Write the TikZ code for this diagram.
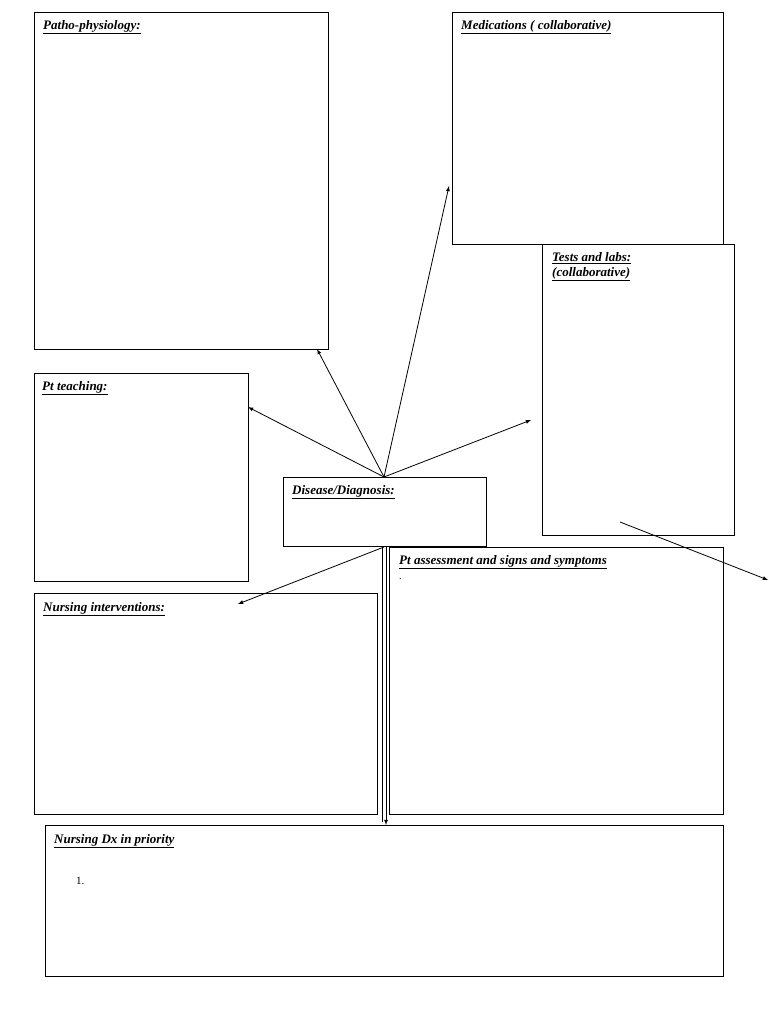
\documentclass[tikz,border=0pt]{standalone}
\usepackage{fontspec}
\setmainfont{Liberation Serif}
\begin{document}
\begin{tikzpicture}[x=1pt,y=-1pt,
  box/.style={draw,line width=0.9pt},
  ttl/.style={anchor=north west,font=\bfseries\itshape\fontsize{13}{15}\selectfont,align=left,inner sep=0pt},
  arr/.style={-latex,line width=0.8pt}]
\useasboundingbox (0,0) rectangle (768,1024);
\draw[box] (34,12) rectangle (328,349);
\draw[box] (452,12) rectangle (723,244);
\draw[box,fill=white] (542,244) rectangle (734,535);
\draw[box] (34,373) rectangle (248,581);
\draw[box] (283,477) rectangle (486,546);
\draw[box] (389,547) rectangle (723,814);
\draw[box] (34,593) rectangle (377,814);
\draw[box] (45,825) rectangle (723,976);
\node[ttl] (t1) at (43,20) {\underline{Patho-physiology:}};
\node[ttl] (t2) at (461,20) {\underline{Medications ( collaborative)}};
\node[ttl] (t3) at (552,252) {\underline{Tests and labs:}\\\underline{(collaborative)}};
\node[ttl] (t4) at (42,381) {\underline{Pt teaching:}};
\node[ttl] (t5) at (292,485) {\underline{Disease/Diagnosis:}};
\node[ttl] (t6) at (399,555) {\underline{Pt assessment and signs and symptoms}};
\node[anchor=north west,inner sep=0pt,font=\fontsize{10}{12}\selectfont] (d) at (399,578) {.};
\node[ttl] (t7) at (43,602) {\underline{Nursing interventions:}};
\node[ttl] (t8) at (54,834) {\underline{Nursing Dx in priority}};
\node[anchor=north west,inner sep=0pt,font=\fontsize{11}{13}\selectfont] (n1) at (76,877) {1.};
\coordinate (c) at (384,477);
\coordinate (b) at (384,547);
\coordinate (p1) at (317,349);
\coordinate (p2) at (449,186);
\coordinate (p3) at (248,407);
\coordinate (p4) at (531,420);
\coordinate (p5) at (238,604);
\coordinate (p6) at (384,825);
\coordinate (s) at (620,522);
\coordinate (e) at (768,580);
\foreach \p in {p1,p2,p3,p4} \draw[arr] (c) -- (\p);
\draw[arr] (b) -- (p5);
\draw[line width=0.8pt] (382,547) -- (382,822);
\draw[arr] (386,547) -- (386,825);
\draw[arr] (s) -- (e);
\end{tikzpicture}
\end{document}
